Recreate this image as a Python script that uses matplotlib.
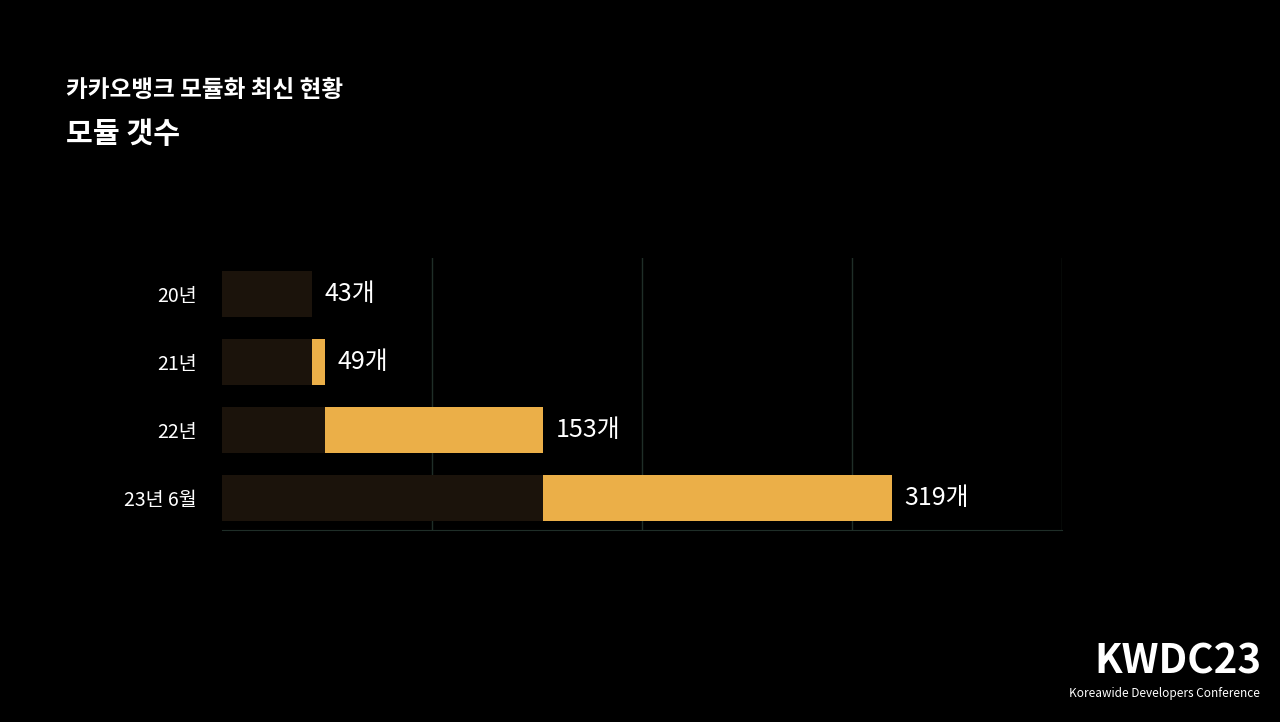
import matplotlib.pyplot as plt

plt.rcParams['font.family'] = ['Noto Sans CJK KR', 'DejaVu Sans']

labels = ['20년', '21년', '22년', '23년 6월']
counts = [43, 49, 153, 319]
# dark part = previous year's count, yellow part = growth
previous = [43, 43, 49, 153]
growth = [c - p for c, p in zip(counts, previous)]

fig = plt.figure(figsize=(12.8, 7.22), dpi=100, facecolor='black')
ax = fig.add_axes([222 / 1280, 1 - 530 / 722, 840 / 1280, 272 / 722])
ax.set_facecolor('black')

y = list(range(len(labels)))
ax.barh(y, previous, height=0.68, color='#1b130b')
ax.barh(y, growth, left=previous, height=0.68, color='#ebaf48')

for yi, c in zip(y, counts):
    ax.text(c + 6, yi, f'{c}개', color='white', fontsize=18, fontweight='light',
            va='center', ha='left')

ax.set_xlim(0, 400)
ax.set_ylim(3.47, -0.53)
ax.set_xticks([100, 200, 300, 400])
ax.set_xticklabels([])
ax.tick_params(axis='x', length=0)
ax.grid(axis='x', color='#1f2e28', linewidth=1)
ax.set_axisbelow(True)
ax.set_yticks(y)
ax.set_yticklabels(labels, color='white', fontsize=14)
ax.tick_params(axis='y', length=0, pad=18)
for s in ['top', 'right', 'left']:
    ax.spines[s].set_visible(False)
ax.spines['bottom'].set_color('#1f2e28')

fig.text(66 / 1280, 1 - 90 / 722, '카카오뱅크 모듈화 최신 현황', color='white',
         fontsize=17, fontweight='bold', va='center')
fig.text(66 / 1280, 1 - 134 / 722, '모듈 갯수', color='white',
         fontsize=21, fontweight='bold', va='center')
fig.text(1262 / 1280, 1 - 662 / 722, 'KWDC23', color='white',
         fontsize=29, fontweight='bold', ha='right', va='center')
fig.text(1260 / 1280, 1 - 693 / 722, 'Koreawide Developers Conference', color='white',
         fontsize=8.5, ha='right', va='center')

fig.savefig('out.png', dpi=100, facecolor='black')
